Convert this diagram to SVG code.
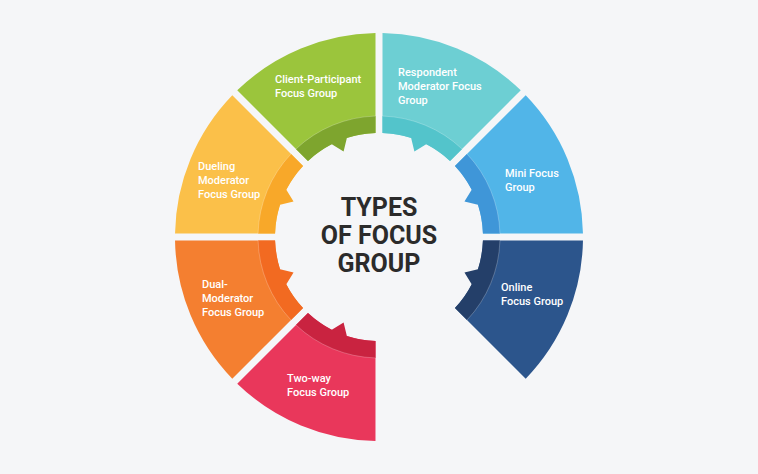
<svg xmlns="http://www.w3.org/2000/svg" xmlns:xlink="http://www.w3.org/1999/xlink" width="758" height="474" viewBox="0 0 758 474">
<defs>
<style>
.lbl{font-family:Roboto,"Liberation Sans",Arial,sans-serif;font-weight:500;font-size:11px;fill:#ffffff}
.title{font-family:Roboto,"Liberation Sans",Arial,sans-serif;font-weight:700;font-size:25px;fill:#2b2b2b;text-anchor:middle}
.hl{fill:none;stroke:#ffffff;stroke-opacity:0.3;stroke-width:0.7}
</style>
<path id="light" d="M -74.82 -189.79 A 204 204 0 0 1 74.82 -189.79 L 36.54 -97.37 A 104 104 0 0 0 -36.54 -97.37 Z"/>
<path id="dark" d="M -43.05 -113.08 A 121 121 0 0 1 43.05 -113.08 L 36.54 -97.37 A 104 104 0 0 0 8.16 -103.68 L 0 -92.5 L -8.16 -103.68 A 104 104 0 0 0 -36.54 -97.37 Z"/>
<path id="line" d="M -43.05 -113.08 A 121 121 0 0 1 43.05 -113.08"/>
</defs>
<rect width="758" height="474" fill="#f5f6f8"/>

<g id="respondent">
<g transform="translate(379 237) rotate(22.5)">
<use xlink:href="#light" fill="#6dcfd3"/><use xlink:href="#dark" fill="#53c4cb"/><use xlink:href="#line" class="hl"/>
</g>
<text class="lbl"><tspan x="398" y="76">Respondent</tspan><tspan x="398" y="90">Moderator Focus</tspan><tspan x="398" y="104">Group</tspan></text>
</g>

<g id="mini">
<g transform="translate(379 237) rotate(67.5)">
<use xlink:href="#light" fill="#51b5e8"/><use xlink:href="#dark" fill="#3f96d8"/><use xlink:href="#line" class="hl"/>
</g>
<text class="lbl"><tspan x="505" y="177">Mini Focus</tspan><tspan x="505" y="191">Group</tspan></text>
</g>

<g id="online">
<g transform="translate(379 237) rotate(112.5)">
<use xlink:href="#light" fill="#2c558c"/><use xlink:href="#dark" fill="#243f69"/><use xlink:href="#line" class="hl"/>
</g>
<text class="lbl"><tspan x="501" y="291">Online</tspan><tspan x="501" y="305">Focus Group</tspan></text>
</g>

<g id="twoway">
<g transform="translate(379 237) rotate(202.5)">
<use xlink:href="#light" fill="#e9375b"/><use xlink:href="#dark" fill="#c92340"/><use xlink:href="#line" class="hl"/>
</g>
<text class="lbl"><tspan x="287" y="382">Two-way</tspan><tspan x="287" y="396">Focus Group</tspan></text>
</g>

<g id="dual">
<g transform="translate(379 237) rotate(247.5)">
<use xlink:href="#light" fill="#f47f30"/><use xlink:href="#dark" fill="#f26a21"/><use xlink:href="#line" class="hl"/>
</g>
<text class="lbl"><tspan x="202" y="288">Dual-</tspan><tspan x="202" y="302">Moderator</tspan><tspan x="202" y="316">Focus Group</tspan></text>
</g>

<g id="dueling">
<g transform="translate(379 237) rotate(292.5)">
<use xlink:href="#light" fill="#fbc049"/><use xlink:href="#dark" fill="#f8a829"/><use xlink:href="#line" class="hl"/>
</g>
<text class="lbl"><tspan x="198" y="170">Dueling</tspan><tspan x="198" y="184">Moderator</tspan><tspan x="198" y="198">Focus Group</tspan></text>
</g>

<g id="client">
<g transform="translate(379 237) rotate(337.5)">
<use xlink:href="#light" fill="#9bc53c"/><use xlink:href="#dark" fill="#7ea52e"/><use xlink:href="#line" class="hl"/>
</g>
<text class="lbl"><tspan x="275" y="83">Client-Participant</tspan><tspan x="275" y="97">Focus Group</tspan></text>
</g>

<g id="center">
<text class="title"><tspan x="379" y="216">TYPES</tspan><tspan x="379" y="244">OF FOCUS</tspan><tspan x="379" y="272">GROUP</tspan></text>
</g>
<g id="connectors"/>
</svg>
